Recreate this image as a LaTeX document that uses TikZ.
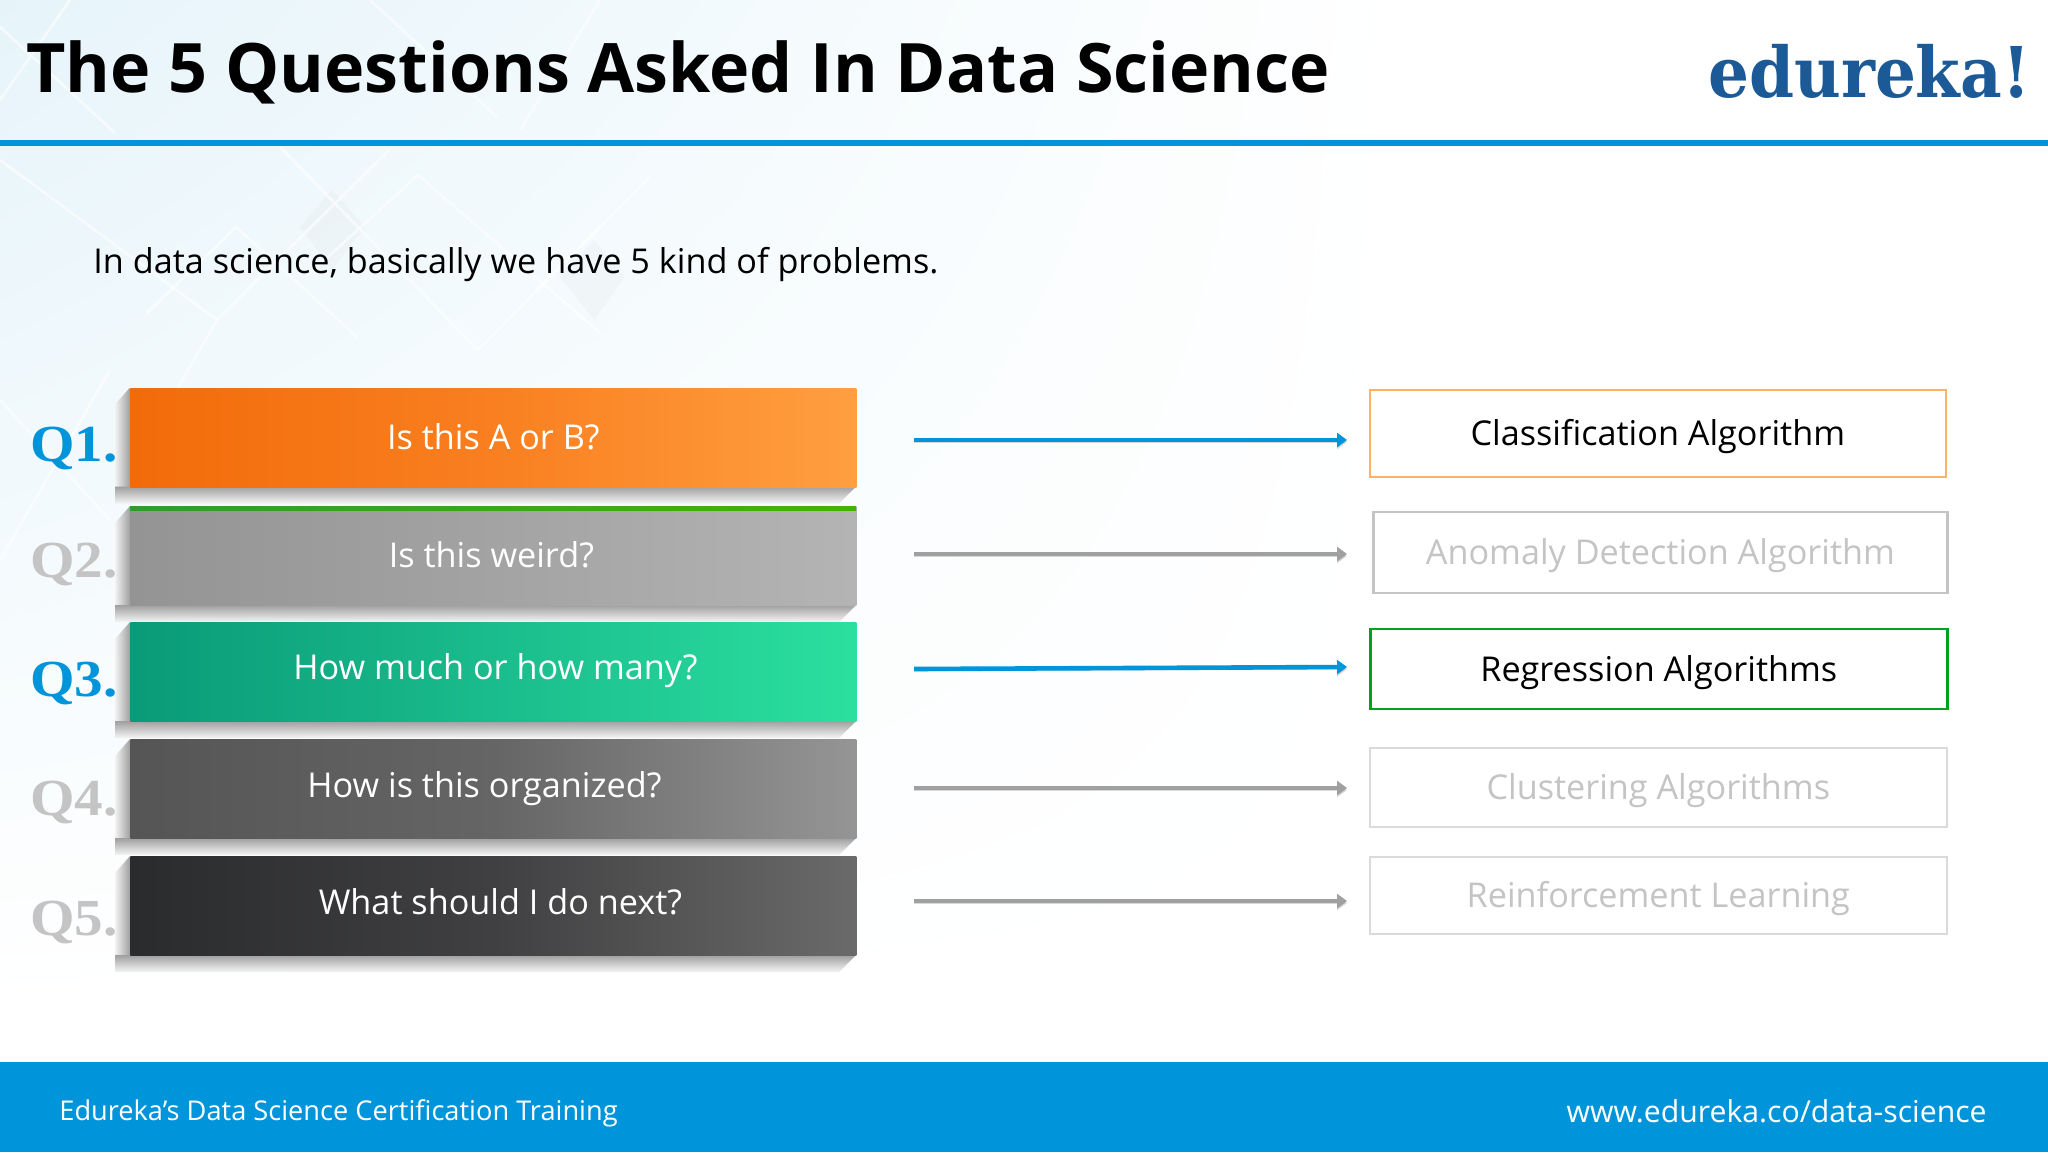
\documentclass[tikz,border=0pt]{standalone}
\usepackage{fontspec}
\setmainfont{Open Sans}
\newfontfamily\qfont[FakeStretch=1.1]{Liberation Serif}
\newfontfamily\logofont[FakeStretch=.92]{DejaVu Serif}
\usetikzlibrary{arrows.meta,positioning,shadings,calc}

\definecolor{barblue}{HTML}{0095DA}
\definecolor{logoblue}{HTML}{1B5A96}
\definecolor{ghost}{HTML}{C4C4C4}
\definecolor{ghostline}{HTML}{DADADA}
\definecolor{arrowgrey}{HTML}{A0A0A0}
\definecolor{wash}{HTML}{E6F4FA}

\tikzset{
  question/.style={minimum width=363pt,minimum height=49.5pt,inner sep=0pt,text=white,text height=10pt,text depth=0pt,font=\fontsize{17.1}{20}\selectfont},
  answer/.style={draw,fill=white,inner sep=0pt,text height=15pt,text depth=3pt,font=\fontsize{17.1}{20}\selectfont},
  qtag/.style={font=\qfont\bfseries\fontsize{26}{26}\selectfont,inner sep=0pt},
  link/.style={line width=2.3pt,-{Triangle[length=5pt,width=7pt]},preaction={draw=gray,opacity=.3,transform canvas={yshift=-1pt}}},
  bgline/.style={draw=white,line width=1.3pt,opacity=.6},
}

\begin{document}
\begin{tikzpicture}[x=0.5pt,y=-0.5pt]
  \useasboundingbox (0,0) rectangle (2048,1152);
  % background
  \fill[white] (0,0) rectangle (2048,1152);
  \shade[upper left=wash,upper right=white,lower left=white,lower right=white] (0,0) rectangle (1400,1000);
  \fill[gray!40,opacity=.1] (332,190) -- (365,227) -- (332,270) -- (300,227) -- cycle;
  \fill[gray!40,opacity=.1] (594,240) -- (625,277) -- (594,320) -- (560,277) -- cycle;
  \foreach \xa/\ya/\xb/\yb in {0/27/115/133,280/147/478/350,389/150/217/320,418/175/306/277,
    418/175/600/333,650/177/478/350,600/227/536/290,236/227/147/313,236/227/357/337,0/160/217/320,
    370/0/497/117,0/400/110/520,110/370/0/560,70/0/0/100,600/0/520/130,217/320/130/470}{
    \draw[bgline] (\xa,\ya) -- (\xb,\yb);
  }
  % header and footer
  \fill[barblue] (0,140) rectangle (2048,146);
  \fill[barblue] (0,1062) rectangle (2048,1152);
  \node[anchor=base west,inner sep=0pt,font=\bfseries\fontsize{34.1}{40}\selectfont] (title) at (26,92) {The 5 Questions Asked In Data Science};
  \node[anchor=base east,inner sep=0pt,text=logoblue,font=\logofont\bfseries\fontsize{35}{40}\selectfont] (logo) at (2031,97) {edureka!};
  \node[anchor=base west,inner sep=0pt,font=\fontsize{17.1}{20}\selectfont] (intro) at (93,273) {In data science, basically we have 5 kind of problems.};
  \node[anchor=base west,inner sep=0pt,text=white,font=\fontsize{13.6}{16}\selectfont] (course) at (59,1120) {Edureka’s Data Science Certification Training};
  \node[anchor=base east,inner sep=0pt,text=white,font=\fontsize{15.1}{18}\selectfont] (site) at (1987,1122) {www.edureka.co/data-science};
  % bars
  \foreach \n/\y/\l/\m/\r/\txt/\dx/\dy in {
    one/437.5/F26B0A/F97F20/FF9F40/Is this A or B?/0/-.75,
    two/556/949494/A4A3A4/B5B4B5/Is this weird?/-2/-.5,
    three/672/0A9A78/1ABC8C/2BE09F/How much or how many?/2/1.5,
    four/789/555555/656565/959595/How is this organized?/-9/1,
    five/906/2A2B2D/404042/6A6A6A/What should I do next?/7/1}{
    \definecolor{lc}{HTML}{\l}\definecolor{mc}{HTML}{\m}\definecolor{rc}{HTML}{\r}
    \shade[left color=gray!10,right color=gray!75] (115,\y-33) -- (130,\y-50) -- (130,\y+50) -- (115,\y+65) -- cycle;
    \shade[top color=gray!75,bottom color=gray!8] (115,\y+49) -- (856,\y+49) -- (839,\y+66) -- (115,\y+66) -- cycle;
    \node[question,left color=lc,right color=rc,middle color=mc,anchor=west] (\n) at (130,\y) {\hspace*{\dx pt}\raisebox{\dy pt}{\txt}};
  }
  \shade[left color=green!50!black!80,right color=green!60!yellow!70!black] (130,506) rectangle (856,510);
  % question tags
  \node[qtag,anchor=east,text=barblue] (q1) at (118,448) {Q1.};
  \node[qtag,anchor=east,text=ghost] (q2) at (118,564) {Q2.};
  \node[qtag,anchor=east,text=barblue] (q3) at (118,683) {Q3.};
  \node[qtag,anchor=east,text=ghost] (q4) at (118,802) {Q4.};
  \node[qtag,anchor=east,text=ghost] (q5) at (118,922) {Q5.};
  % answers
  \node[answer,draw=orange!60,line width=.8pt,minimum width=288pt,minimum height=43.5pt,anchor=west] (a1) at (1369,433.5) {Classification Algorithm};
  \node[answer,draw=ghost,text=ghost,line width=1.4pt,minimum width=287pt,minimum height=40.5pt,anchor=west] (a2) at (1372,552.5) {Anomaly Detection Algorithm};
  \node[answer,draw=green!60!black!90!cyan,line width=1.3pt,minimum width=288.5pt,minimum height=40pt,anchor=west] (a3) at (1369,669) {Regression Algorithms};
  \node[answer,draw=ghostline,text=ghost,line width=.8pt,minimum width=288.5pt,minimum height=39.5pt,anchor=west] (a4) at (1369,787.5) {Clustering Algorithms};
  \node[answer,draw=ghostline,text=ghost,line width=.8pt,minimum width=288.5pt,minimum height=38.5pt,anchor=west] (a5) at (1369,895.5) {Reinforcement Learning};
  % arrows
  \coordinate (s1) at (914,440); \coordinate (e1) at (1347,440);
  \coordinate (s2) at (914,554); \coordinate (e2) at (1347,554);
  \coordinate (s3) at (914,669); \coordinate (e3) at (1347,667);
  \coordinate (s4) at (914,788); \coordinate (e4) at (1347,788);
  \coordinate (s5) at (914,901); \coordinate (e5) at (1347,901);
  \draw[link,barblue] (s1) -- (e1);
  \draw[link,arrowgrey] (s2) -- (e2);
  \draw[link,barblue] (s3) -- (e3);
  \draw[link,arrowgrey] (s4) -- (e4);
  \draw[link,arrowgrey] (s5) -- (e5);
\end{tikzpicture}
\end{document}
